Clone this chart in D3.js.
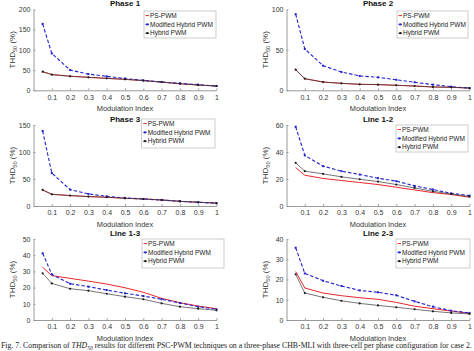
<!DOCTYPE html>
<html><head><meta charset="utf-8">
<script src="https://cdn.jsdelivr.net/npm/d3@7"></script>
<style>html,body{margin:0;padding:0;background:#fff;}svg{display:block;}</style>
</head><body>
<script>
// ---- data ----
const modIndex = [0.05, 0.1, 0.2, 0.3, 0.4, 0.5, 0.6, 0.7, 0.8, 0.9, 1.0];
const xTicks = [0.1, 0.2, 0.3, 0.4, 0.5, 0.6, 0.7, 0.8, 0.9, 1];
const panelTitles = ["Phase 1", "Phase 2", "Phase 3", "Line 1-2", "Line 1-3", "Line 2-3"];
const yMax = [200, 100, 150, 60, 50, 40];
const yTicks = [[0,50,100,150,200],[0,50,100],[0,50,100,150],[0,20,40,60],[0,10,20,30,40,50],[0,10,20,30,40]];
const seriesNames = ["PS-PWM", "Modified Hybrid PWM", "Hybrid PWM"];
const psPWM = [
  [46, 39, 35, 32, 29.5, 27, 24, 20, 16, 13, 10.5],
  [25.5, 14.3, 10.2, 8.6, 7.4, 7, 6.2, 5.3, 4.1, 3.7, 2.8],
  [29.7, 21.7, 19.3, 17.5, 16.2, 14.3, 13, 11.2, 8.7, 6.9, 5.6],
  [28.5, 22.8, 20.4, 18.9, 17.4, 15.9, 13.9, 11.9, 9.9, 8.5, 6.5],
  [32.5, 27.4, 25.7, 24, 22.2, 19.9, 17.1, 13.4, 10.7, 8.6, 7],
  [23.9, 15.8, 13.3, 12, 11, 10.2, 8.7, 6.8, 5.6, 4.4, 3.3]
];
const modHybridPWM = [
  [164, 91, 50, 40, 34.5, 29, 24.5, 20.5, 17, 14, 10.6],
  [94, 51, 30.4, 22.6, 17.7, 16, 13, 9.9, 7, 4.5, 2.8],
  [139, 61, 30.4, 22.3, 18, 15, 13, 11, 8.7, 6.9, 5],
  [58.7, 37.5, 29.5, 25.8, 23.3, 20.6, 18.4, 14.9, 12.2, 9.4, 7.7],
  [41.2, 28.2, 22.4, 20.6, 18.5, 16.5, 14.8, 12.8, 10.5, 8.2, 6.6],
  [35.7, 23, 19.4, 16.8, 14.6, 13.7, 12.2, 9.2, 6.6, 4.6, 3.5]
];
const hybridPWM = [
  [46, 38.5, 34.5, 32, 29.5, 27, 24, 20.5, 16.5, 13, 10.6],
  [25.5, 14.3, 10.2, 8.6, 7.4, 7, 6.2, 5.3, 4.1, 3.7, 2.8],
  [29.7, 21.7, 19.3, 17.5, 16.2, 14.3, 13, 11.2, 8.7, 6.9, 5.6],
  [32, 25.8, 23.8, 21.6, 19.8, 18.1, 15.9, 13.4, 10.9, 8.9, 7],
  [28.8, 22.6, 19.3, 18.1, 16.2, 14.4, 12.8, 10.3, 8.2, 7, 6],
  [22.6, 13.3, 11.2, 9.5, 8.2, 7.2, 6.3, 5.3, 4.3, 3.5, 3]
];

// ---- layout ----
const W = 474, H = 351;
const colLeft = [33.5, 286.5], rowTop = [9.3, 125, 239];
const PW = 183, PH = 81;
const legendBoxes = [[144, 11, 72, 27], [397, 11, 71, 27], [141.7, 119, 73.3, 29], [396, 125, 72, 27], [142, 239, 82, 29], [396, 239, 74, 29]];
const FONT = "'Liberation Sans', Arial, Helvetica, sans-serif";
const RED = "#e8272b", BLUE = "#2323d0", BLACK = "#1a1a1a";

const svg = d3.select("body").append("svg").attr("width", W).attr("height", H)
  .style("font-family", FONT);

panelTitles.forEach((title, i) => {
  const left = colLeft[i % 2], top = rowTop[Math.floor(i / 2)];
  const x = d3.scaleLinear().domain([0, 1]).range([left, left + PW]);
  const y = d3.scaleLinear().domain([0, yMax[i]]).range([top + PH, top]);
  const g = svg.append("g");

  const xa = g.append("g").attr("transform", `translate(0,${top + PH})`)
    .call(d3.axisBottom(x).tickValues(xTicks).tickFormat(d3.format("~g")).tickSizeInner(-2).tickSizeOuter(0).tickPadding(4.5));
  const ya = g.append("g").attr("transform", `translate(${left},0)`)
    .call(d3.axisLeft(y).tickValues(yTicks[i]).tickSizeInner(-2).tickSizeOuter(0).tickPadding(3));
  [xa, ya].forEach(a => {
    a.select(".domain").attr("stroke", "#808080").attr("stroke-width", 0.8);
    a.selectAll(".tick line").attr("stroke", "#808080").attr("stroke-width", 0.7);
    a.selectAll(".tick text").attr("fill", "#333").style("font-size", "7px").style("font-family", FONT);
  });

  // title
  g.append("text").attr("x", left + PW / 2).attr("y", top - 3).attr("text-anchor", "middle")
    .style("font-size", "8px").style("font-weight", "bold").attr("fill", "#111").text(title);
  // x label
  g.append("text").attr("x", left + PW / 2).attr("y", top + PH + 20.5).attr("text-anchor", "middle")
    .style("font-size", "7.4px").attr("fill", "#333").text("Modulation Index");
  // y label
  const yl = g.append("text").attr("transform", `translate(${left - 19},${top + PH / 2}) rotate(-90)`)
    .attr("text-anchor", "middle").style("font-size", "8px").attr("fill", "#333");
  yl.append("tspan").text("THD");
  yl.append("tspan").attr("dy", 2.2).style("font-size", "5.6px").text("50");
  yl.append("tspan").attr("dy", -2.2).text(" (%)");

  const line = d3.line().x((d, k) => x(modIndex[k])).y(d => y(d));
  // PS-PWM (red, solid)
  g.append("path").datum(psPWM[i]).attr("d", line).attr("fill", "none").attr("stroke", RED).attr("stroke-width", 1);
  // Modified Hybrid PWM (blue dashed with square markers)
  g.append("path").datum(modHybridPWM[i]).attr("d", line).attr("fill", "none").attr("stroke", BLUE)
    .attr("stroke-width", 1.1).attr("stroke-dasharray", "3.5,2");
  g.selectAll(null).data(modHybridPWM[i]).enter().append("rect")
    .attr("x", (d, k) => x(modIndex[k]) - 1).attr("y", d => y(d) - 1).attr("width", 2).attr("height", 2).attr("fill", BLUE);
  // Hybrid PWM (black with dot markers)
  g.append("path").datum(hybridPWM[i]).attr("d", line).attr("fill", "none").attr("stroke", "#3a3a3a").attr("stroke-width", 0.7);
  g.selectAll(null).data(hybridPWM[i]).enter().append("circle")
    .attr("cx", (d, k) => x(modIndex[k])).attr("cy", d => y(d)).attr("r", 1.1).attr("fill", BLACK);

  // legend
  const [lx, ly, lw, lh] = legendBoxes[i];
  const lg = g.append("g");
  lg.append("rect").attr("x", lx).attr("y", ly).attr("width", lw).attr("height", lh)
    .attr("fill", "#fff").attr("stroke", "#aaa").attr("stroke-width", 0.6);
  seriesNames.forEach((name, k) => {
    const cy = ly + 4.6 + k * 8.8;
    const col = [RED, BLUE, BLACK][k];
    lg.append("line").attr("x1", lx + 1.5).attr("x2", lx + 5).attr("y1", cy).attr("y2", cy)
      .attr("stroke", col).attr("stroke-width", 1);
    if (k === 1) lg.append("rect").attr("x", lx + 2.3).attr("y", cy - 1).attr("width", 2).attr("height", 2).attr("fill", col);
    if (k === 2) lg.append("circle").attr("cx", lx + 3.3).attr("cy", cy).attr("r", 1.1).attr("fill", col);
    lg.append("text").attr("x", lx + 6).attr("y", cy).attr("dy", "0.35em")
      .style("font-size", "6.5px").attr("fill", "#222").text(name);
  });
});

// caption
const cap = svg.append("text").attr("x", 1).attr("y", 348)
  .style("font-family", "'Liberation Serif', 'Times New Roman', serif").style("font-size", "10px").attr("fill", "#222");
cap.append("tspan").text("Fig. 7. Comparison of ");
cap.append("tspan").style("font-style", "italic").text("THD");
cap.append("tspan").attr("dy", 1.5).style("font-style", "italic").style("font-size", "7px").text("50");
cap.append("tspan").attr("dy", -1.5).text(" results for different PSC-PWM techniques on a three-phase CHB-MLI with three-cell per phase configuration for case 2.");
const len = cap.node().getComputedTextLength();
cap.style("font-size", (10 * 472 / len) + "px");
cap.selectAll("tspan").filter(function(){ return this.style.fontSize === "7px"; })
  .style("font-size", (7 * 472 / len) + "px");
</script>
</body></html>
